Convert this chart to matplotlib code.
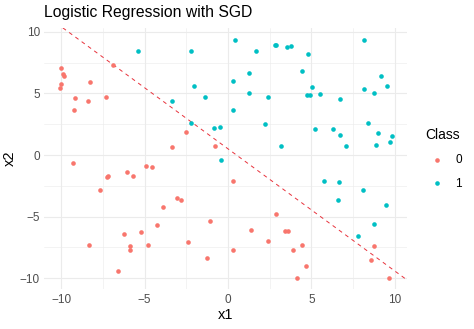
import matplotlib
matplotlib.use("Agg")
import matplotlib.pyplot as plt
import numpy as np

plt.rcParams['font.family'] = ['Liberation Sans', 'DejaVu Sans']

# Class 0 points
x1_c0 = [-10.0, -9.9, -9.85, -10.04, -10.06, -9.2, -9.24, -8.42, -8.26, -7.32, -6.9,
         -3.36, -2.5, -0.76, -9.32, -7.28, -7.18, -6.06, -5.7, -4.92, -4.58, -7.7,
         -3.08, -2.8, -3.9, -4.28, -5.2, -6.22, -8.32, -5.86, -5.86, -4.8, -6.58,
         -2.42, -1.28, -1.08, 0.3, 0.3, 1.36, 2.9, 2.38, 3.4, 3.6, 3.92, 4.44, 4.7,
         4.12, 8.74, 8.58, 9.64]
x2_c0 = [7.03, 6.6, 6.4, 5.76, 5.4, 4.62, 3.65, 4.41, 5.92, 4.70, 7.32,
         0.67, 1.87, 0.73, -0.68, -1.76, -1.73, -1.38, -1.68, -0.89, -0.97, -2.87,
         -3.51, -3.65, -4.22, -5.65, -6.27, -6.41, -7.32, -7.38, -7.68, -7.27, -9.38,
         -7.06, -8.38, -5.35, -2.08, -7.73, -6.06, -4.79, -6.97, -6.14, -6.19, -7.68, -7.27, -8.97,
         -9.95, -7.41, -8.54, -9.95]

# Class 1 points
x1_c1 = [-5.38, -2.24, 0.4, -2.02, -1.38, -3.34, 0.28, 0.28, -2.22, -0.86, -0.5, -0.4,
         1.66, 2.8, 2.9, 3.56, 3.76, 4.8, 1.24, 1.28, 2.38, 4.44, 5.02, 4.76, 4.92, 5.54,
         6.74, 2.24, 3.18, 5.22, 6.28, 6.7, 7.06, 8.16, 9.2, 9.52, 8.16, 8.74, 8.38, 9.0,
         9.84, 8.86, 9.74, 5.74, 6.64, 6.58, 8.1, 9.48, 8.78, 7.8]
x2_c1 = [8.46, 8.46, 9.3, 5.62, 4.70, 4.41, 5.98, 3.65, 2.62, 2.22, 2.3, -0.41,
         8.46, 8.95, 8.95, 8.76, 8.81, 8.19, 6.62, 5.0, 4.70, 6.81, 5.54, 4.84, 4.89, 4.92,
         4.54, 2.51, 0.75, 2.08, 2.08, 1.65, 0.75, 9.3, 6.41, 5.62, 5.33, 5.05, 2.57, 1.81,
         1.52, 0.81, 1.03, -2.08, -2.16, -3.65, -2.87, -4.08, -5.62, -6.54]

# Decision boundary: x2 = intercept + slope * x1
boundary_intercept = 0.5
boundary_slope = -0.99

title = "Logistic Regression with SGD"
x_ticks = [-10, -5, 0, 5, 10]
y_ticks = [-10, -5, 0, 5, 10]

col0 = "#F8766D"
col1 = "#00BFC4"

fig = plt.figure(figsize=(4.74, 3.29), dpi=100)
ax = fig.add_axes([44/474, 1-289.4/329, (407-44)/474, (289.4-28)/329])

xlim = (-11.04, 10.74)
ylim = (-10.9, 10.3)
ax.set_xlim(*xlim)
ax.set_ylim(*ylim)

for s in ax.spines.values():
    s.set_visible(False)
ax.set_xticks(x_ticks)
ax.set_yticks(y_ticks)
ax.set_xticks([-7.5, -2.5, 2.5, 7.5], minor=True)
ax.set_yticks([-7.5, -2.5, 2.5, 7.5], minor=True)
ax.grid(True, which='major', color='#EBEBEB', linewidth=0.8)
ax.grid(True, which='minor', color='#EBEBEB', linewidth=0.4)
ax.set_axisbelow(True)
ax.tick_params(which='both', length=0, labelsize=8.5, labelcolor='#4D4D4D', pad=3)

ax.scatter(x1_c0, x2_c0, s=11, color=col0, linewidths=0, label="0", zorder=3)
ax.scatter(x1_c1, x2_c1, s=11, color=col1, linewidths=0, label="1", zorder=3)

xs = np.array(xlim)
ax.plot(xs, boundary_intercept + boundary_slope * xs, color='#E8323C', linestyle=(0, (4, 4)),
        linewidth=0.7, zorder=2)

ax.set_xlabel("x1", fontsize=10.5, labelpad=2)
ax.set_ylabel("x2", fontsize=10.5, labelpad=2)
fig.text(44/474, 1-13/329, title, fontsize=11.3, ha='left', va='center')

leg = ax.legend(title="Class", loc='center left', bbox_to_anchor=(1.035, 0.5),
                frameon=False, fontsize=8.5, title_fontsize=10, handletextpad=0.5,
                markerscale=1.0, labelspacing=1.0, borderpad=0)
leg._legend_box.align = "left"

fig.savefig("out.png", dpi=100)
